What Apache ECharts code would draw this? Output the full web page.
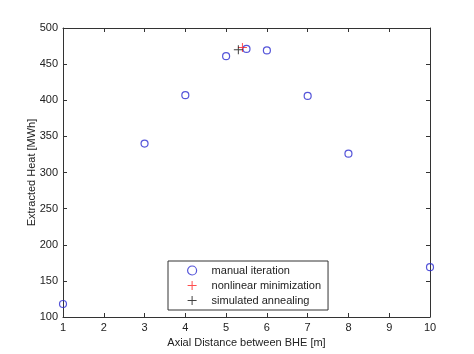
<!DOCTYPE html>
<html lang="en">
<head>
    <meta charset="UTF-8">
    <title>Extracted Heat vs Axial Distance</title>
    <script src="https://cdn.jsdelivr.net/npm/echarts@6/dist/echarts.min.js"></script>
    <style>
        html, body { margin: 0; padding: 0; background: #fff; }
        #main { width: 474px; height: 354px; }
    </style>
</head>
<body>
<div id="main"></div>
<script type="text/javascript">
    // data
    var distance = [1, 3, 4, 5, 5.5, 6, 7, 8, 10];
    var heat = [118, 340, 407, 461, 471, 469, 406, 326, 169];
    var nlDistance = [5.4];
    var nlHeat = [473];
    var saDistance = [5.3];
    var saHeat = [470];

    function pairs(xs, ys) {
        return xs.map(function (x, i) { return [x, ys[i]]; });
    }

    var plus = 'path://M4,0H5V4H9V5H5V9H4V5H0V4H4Z';
    var font = 'Liberation Sans, Arial, sans-serif';
    var axisCol = '#333';
    var blue = '#2a2ad0';

    var myChart = echarts.init(document.getElementById('main'));
    var option = {
        animation: false,
        textStyle: { fontFamily: font },
        grid: { left: 63, right: 44, top: 28, bottom: 37 },
        legend: {
            orient: 'vertical',
            left: 168,
            top: 261,
            itemWidth: 9,
            itemHeight: 11,
            itemGap: 4,
            padding: [4, 7, 4, 19],
            borderColor: '#333',
            borderWidth: 1,
            backgroundColor: '#fff',
            textStyle: { fontSize: 11, color: '#222', padding: [0, 0, 0, 10] },
            data: [
                { name: 'manual iteration', icon: 'circle',
                  itemStyle: { color: 'rgba(0,0,0,0)', borderColor: blue, borderWidth: 1.2 } },
                { name: 'nonlinear minimization' },
                { name: 'simulated annealing' }
            ]
        },
        xAxis: [{
            type: 'value', min: 1, max: 10, interval: 1,
            name: 'Axial Distance between BHE [m]',
            nameLocation: 'middle', nameGap: 16,
            nameTextStyle: { fontSize: 11, color: '#222' },
            axisLine: { lineStyle: { color: axisCol } },
            axisTick: { inside: true, length: 4, lineStyle: { color: axisCol } },
            axisLabel: { fontSize: 11, color: '#222', margin: 5 },
            splitLine: { show: false }
        }, {
            type: 'value', min: 1, max: 10, interval: 1, position: 'top',
            axisLine: { lineStyle: { color: axisCol } },
            axisTick: { inside: true, length: 4, lineStyle: { color: axisCol } },
            axisLabel: { show: false },
            splitLine: { show: false }
        }],
        yAxis: [{
            type: 'value', min: 100, max: 500, interval: 50,
            name: 'Extracted Heat [MWh]',
            nameLocation: 'middle', nameGap: 26, nameMoveOverlap: false,
            nameTextStyle: { fontSize: 11, color: '#222' },
            axisLine: { show: true, lineStyle: { color: axisCol } },
            axisTick: { show: true, inside: true, length: 4, lineStyle: { color: axisCol } },
            axisLabel: { fontSize: 11, color: '#222', margin: 5 },
            splitLine: { show: false }
        }, {
            type: 'value', min: 100, max: 500, interval: 50, position: 'right',
            axisLine: { show: true, lineStyle: { color: axisCol } },
            axisTick: { show: true, inside: true, length: 4, lineStyle: { color: axisCol } },
            axisLabel: { show: false },
            splitLine: { show: false }
        }],
        series: [{
            name: 'manual iteration',
            type: 'scatter',
            symbol: 'circle',
            symbolSize: 7,
            itemStyle: { color: 'rgba(0,0,0,0)', borderColor: blue, borderWidth: 1.2 },
            data: pairs(distance, heat)
        }, {
            name: 'nonlinear minimization',
            type: 'scatter',
            symbol: plus,
            symbolSize: 9,
            itemStyle: { color: '#ff2020' },
            data: pairs(nlDistance, nlHeat)
        }, {
            name: 'simulated annealing',
            type: 'scatter',
            symbol: plus,
            symbolSize: 9,
            itemStyle: { color: '#111' },
            data: pairs(saDistance, saHeat)
        }]
    };
    myChart.setOption(option);
</script>
</body>
</html>
